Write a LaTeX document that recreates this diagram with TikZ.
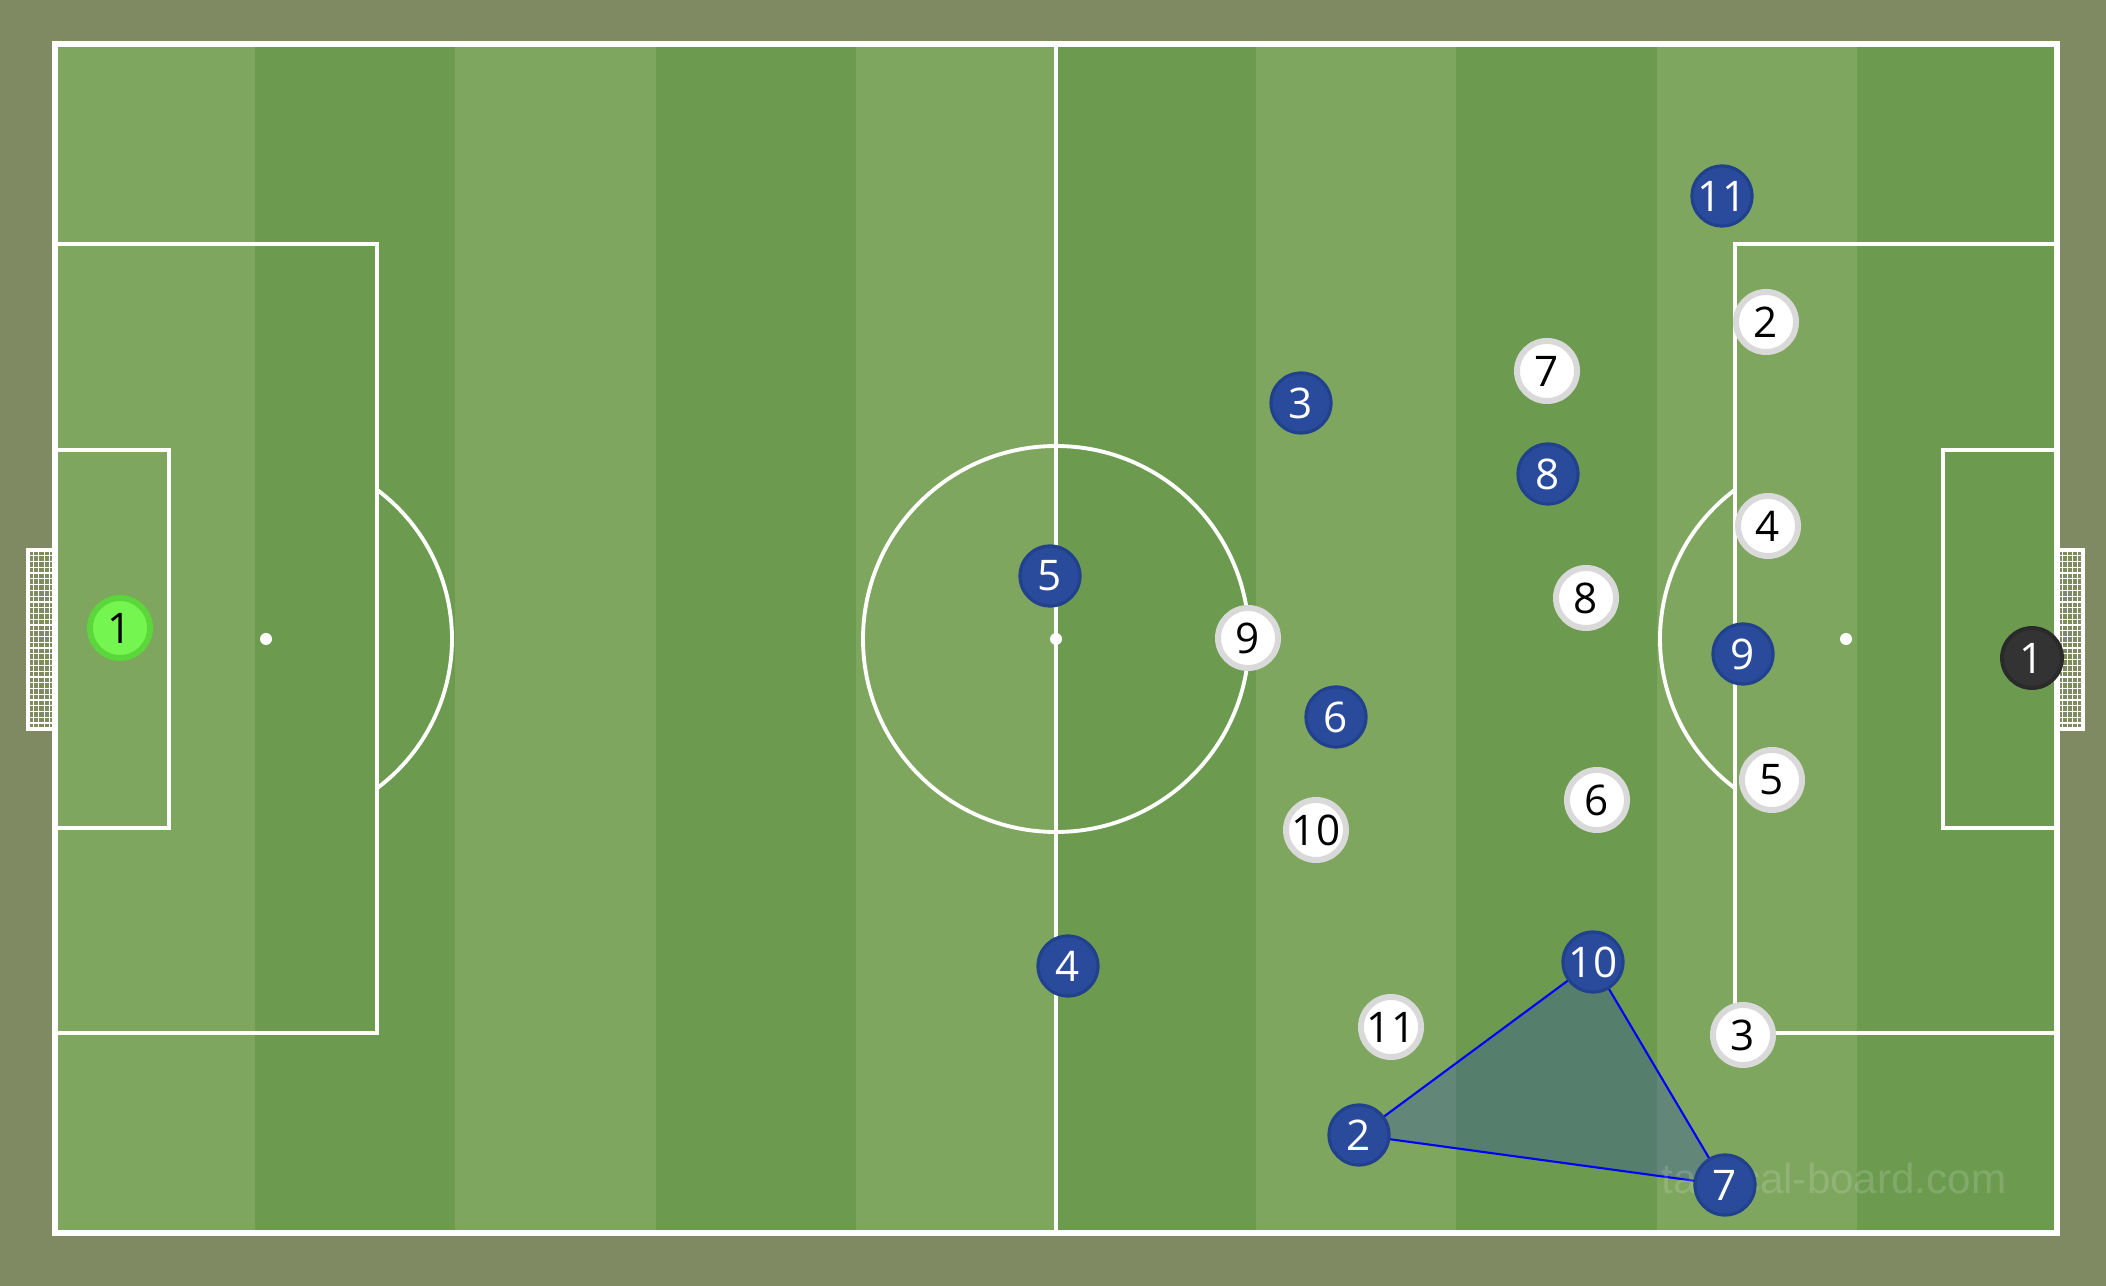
\documentclass[tikz,border=0pt]{standalone}
\usepackage{fontspec}
\setsansfont{Open Sans}
\newfontfamily\markfont{Liberation Sans}
\usepackage{xcolor}
\usepackage{tikz}

\definecolor{surround}{HTML}{808A62}
\definecolor{grasslight}{HTML}{7EA65F}
\definecolor{grassdark}{HTML}{6C9B50}
\definecolor{bluefill}{HTML}{2A4B9B}
\definecolor{blueedge}{HTML}{22418C}
\definecolor{whiteedge}{HTML}{D9D9D9}
\definecolor{keeperfill}{HTML}{74F54F}
\definecolor{keeperedge}{HTML}{5BD73C}
\definecolor{darkkeeper}{HTML}{333333}
\definecolor{darkedge}{HTML}{2A2A2A}
\definecolor{zonefill}{RGB}{41,69,170}

\pgfdeclarelayer{pitch}
\pgfdeclarelayer{zone}
\pgfsetlayers{pitch,zone,main}

\begin{document}
\begin{tikzpicture}[x=0.01cm, y=-0.01cm,
    pitchline/.style={white, line width=1.1pt},
    player/.style={circle, minimum size=0.6cm, inner sep=0pt, font=\sffamily\fontsize{12}{13}\selectfont},
    blue player/.style={player, fill=bluefill, draw=blueedge, line width=0.9pt, text=white},
    white player/.style={player, fill=white, draw=whiteedge, line width=1.7pt, text=black},
    green keeper/.style={player, fill=keeperfill, draw=keeperedge, line width=1.7pt, text=black},
    dark keeper/.style={player, fill=darkkeeper, draw=darkedge, line width=1.1pt, text=white}]

\begin{pgfonlayer}{pitch}
    % Surround and grass stripes
    \fill[surround] (0,0) rectangle (2106,1286);
    \useasboundingbox (0,0) rectangle (2106,1286);
    \fill[grasslight] (55,44) rectangle (2057,1233);
    \foreach \i in {1,3,5,7,9}
        \fill[grassdark] ({55+\i*200.2},44) rectangle ({55+(\i+1)*200.2},1233);

    % Goals with nets
    \foreach \gx/\gw in {28/27, 2057/26} {
        \foreach \k in {1,...,4}
            \draw[white, line width=0.35pt] ({\gx+\k*\gw/5},550) -- ({\gx+\k*\gw/5},729);
        \foreach \k in {1,...,30}
            \draw[white, line width=0.35pt] (\gx,{550+\k*5.77}) -- ({\gx+\gw},{550+\k*5.77});
        \draw[white, line width=0.9pt] (\gx,550) rectangle ({\gx+\gw},729);
    }

    % Halfway line and centre circle
    \draw[pitchline] (1056,44) -- (1056,1233);
    \draw[pitchline] (1056,639) circle[radius=193];
    \fill[white] (1056,639) circle[radius=6];

    % Penalty areas, goal areas and spots
    \draw[pitchline] (55,244) rectangle (377,1033);
    \draw[pitchline] (1735,244) rectangle (2057,1033);
    \draw[pitchline] (55,450) rectangle (169,828);
    \draw[pitchline] (1943,450) rectangle (2057,828);
    \fill[white] (266,639) circle[radius=6];
    \fill[white] (1846,639) circle[radius=6];

    % Penalty arcs
    \draw[pitchline] (266,639) ++(-53.2:186) arc[start angle=-53.2, end angle=53.2, radius=186];
    \draw[pitchline] (1846,639) ++(126.8:186) arc[start angle=126.8, end angle=233.2, radius=186];

    % Touch and goal lines
    \draw[white, line width=1.7pt] (55,44) rectangle (2057,1233);
\end{pgfonlayer}

% Keepers
\node[green keeper] (gkL) at (120,628) {1};
\node[dark keeper] (gkR) at (2032,658) {1};

% Blue team
\node[blue player] (b11) at (1722,196) {11};
\node[blue player] (b3) at (1301,403) {3};
\node[blue player] (b8) at (1548,474) {8};
\node[blue player] (b5) at (1050,576) {5};
\node[blue player] (b9) at (1743,654) {9};
\node[blue player] (b6) at (1336,717) {6};
\node[blue player] (b4) at (1068,966) {4};
\node[blue player] (b10) at (1593,962) {10};
\node[blue player] (b2) at (1359,1135) {2};
\node[blue player] (b7) at (1725,1185) {7};

% White team
\node[white player] (w2) at (1766,322) {2};
\node[white player] (w7) at (1547,371) {7};
\node[white player] (w4) at (1768,526) {4};
\node[white player] (w8) at (1586,598) {8};
\node[white player] (w9) at (1248,638) {9};
\node[white player] (w5) at (1772,780) {5};
\node[white player] (w6) at (1597,800) {6};
\node[white player] (w10) at (1316,830) {10};
\node[white player] (w11) at (1391,1027) {11};
\node[white player] (w3) at (1743,1035) {3};

% Passing triangle
\begin{pgfonlayer}{zone}
    \draw[blue, line width=0.6pt, fill=zonefill, fill opacity=0.33]
        (b10.center) -- (b2.center) -- (b7.center) -- cycle;
    \node[white, opacity=0.15, font=\markfont\fontsize{12}{14}\selectfont] (mark) at (1834,1178) {tactical-board.com};
\end{pgfonlayer}
\end{tikzpicture}
\end{document}
